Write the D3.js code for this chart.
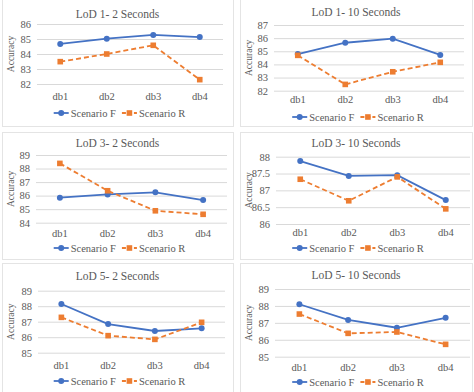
<!DOCTYPE html>
<html><head><meta charset="utf-8">
<script src="https://cdn.jsdelivr.net/npm/d3@7"></script>
<style>body{margin:0;background:#fff}svg{display:block}svg text{font-family:'Liberation Serif','Times New Roman','DejaVu Serif',serif !important}</style>
</head><body>
<svg id="c" width="474" height="392"></svg>
<script>
const categories = ["db1","db2","db3","db4"];
const titles = ["LoD 1- 2 Seconds","LoD 1- 10 Seconds","LoD 3- 2 Seconds","LoD 3- 10 Seconds","LoD 5- 2 Seconds","LoD 5- 10 Seconds"];
const seriesNames = ["Scenario F","Scenario R"];
const lod1s2F = [84.67, 85.02, 85.27, 85.13];
const lod1s2R = [83.49, 84.00, 84.58, 82.29];
const lod1s10F = [84.79, 85.65, 85.96, 84.72];
const lod1s10R = [84.69, 82.48, 83.44, 84.16];
const lod3s2F = [85.85, 86.09, 86.24, 85.67];
const lod3s2R = [88.38, 86.36, 84.88, 84.62];
const lod3s10F = [87.87, 87.43, 87.45, 86.71];
const lod3s10R = [87.33, 86.69, 87.40, 86.45];
const lod5s2F = [88.14, 86.85, 86.40, 86.57];
const lod5s2R = [87.28, 86.10, 85.86, 86.96];
const lod5s10F = [88.10, 87.17, 86.71, 87.30];
const lod5s10R = [87.52, 86.38, 86.46, 85.73];
const ticks1s2 = [82,83,84,85,86];
const ticks1s10 = [82,83,84,85,86,87];
const ticks3s2 = [84,85,86,87,88,89];
const ticks3s10 = [86,86.5,87,87.5,88];
const ticks5s2 = [85,86,87,88,89];
const ticks5s10 = [85,86,87,88,89];

// layout (boxes and plot areas)
const layout = [
  {bx:2,by:-1,bw:231,bh:127, l:37,r:223,t:24,b:84, ty:18, xy:101, ly:113},
  {bx:240,by:-1,bw:232,bh:127, l:274,r:464,t:25,b:90.7, ty:16, xy:104, ly:117},
  {bx:2,by:132,bw:231,bh:127, l:36,r:227,t:155,b:222.7, ty:147, xy:238, ly:248},
  {bx:240,by:132,bw:232,bh:127, l:276,r:470,t:156.7,b:224, ty:147, xy:237, ly:248},
  {bx:2,by:263,bw:231,bh:130, l:38,r:225,t:290.7,b:352.7, ty:280, xy:370, ly:381},
  {bx:240,by:263,bw:232,bh:130, l:275,r:470,t:289,b:356.7, ty:279, xy:372, ly:382}
];
const dataF = [lod1s2F,lod1s10F,lod3s2F,lod3s10F,lod5s2F,lod5s10F];
const dataR = [lod1s2R,lod1s10R,lod3s2R,lod3s10R,lod5s2R,lod5s10R];
const tickSets = [ticks1s2,ticks1s10,ticks3s2,ticks3s10,ticks5s2,ticks5s10];

const blue = "#4472C4", orange = "#ED7D31", txt = "#595959", grid = "#d9d9d9";
const font = "'Liberation Serif', 'DejaVu Serif', serif";
const svg = d3.select("#c");

layout.forEach((L, i) => {
  const g = svg.append("g");
  g.append("rect").attr("x",L.bx+0.5).attr("y",L.by+0.5).attr("width",L.bw).attr("height",L.bh)
    .attr("fill","#fff").attr("stroke","#e4e4e4").attr("stroke-width",1);
  const ticks = tickSets[i];
  const y = d3.scaleLinear().domain(d3.extent(ticks)).range([L.b, L.t]);
  const x = d3.scaleBand().domain(categories).range([L.l, L.r]);
  const cx = d => x(d) + x.bandwidth()/2;

  const yAxis = d3.axisLeft(y).tickValues(ticks).tickSize(-(L.r-L.l)).tickPadding(6)
    .tickFormat(d => String(d));
  const ya = g.append("g").attr("transform",`translate(${L.l},0)`).call(yAxis);
  ya.attr("font-family",font).attr("font-size",null);
  ya.select(".domain").remove();
  ya.selectAll(".tick line").attr("stroke",grid).attr("stroke-width",1);
  ya.selectAll(".tick text").attr("fill",txt).style("font-size","10.5px");

  const xAxis = d3.axisBottom(x).tickSize(0).tickPadding(0);
  const xa = g.append("g").attr("transform",`translate(0,${L.xy-8})`).call(xAxis);
  xa.attr("font-family",font).attr("font-size",null);
  xa.select(".domain").remove();
  xa.selectAll(".tick text").attr("fill",txt).attr("dy","0.71em").style("font-size","10.5px");

  g.append("text").attr("x",(L.bx+L.bw/2)).attr("y",L.ty).attr("text-anchor","middle")
    .attr("fill",txt).style("font-size","11.5px").text(titles[i]);

  g.append("text").attr("transform",`translate(${L.bx+12},${(L.t+L.b)/2}) rotate(-90)`)
    .attr("text-anchor","middle").attr("fill",txt).style("font-size","9.5px").text("Accuracy");

  const line = d3.line().x((d,j)=>cx(categories[j])).y(d=>y(d));
  g.append("path").datum(dataF[i]).attr("d",line).attr("fill","none").attr("stroke",blue).attr("stroke-width",1.8);
  g.append("path").datum(dataR[i]).attr("d",line).attr("fill","none").attr("stroke",orange).attr("stroke-width",1.8).attr("stroke-dasharray","5,3");
  g.selectAll("circle.f").data(dataF[i]).join("circle").attr("class","f")
    .attr("cx",(d,j)=>cx(categories[j])).attr("cy",d=>y(d)).attr("r",3).attr("fill",blue);
  g.selectAll("rect.r").data(dataR[i]).join("rect").attr("class","r")
    .attr("x",(d,j)=>cx(categories[j])-2.8).attr("y",d=>y(d)-2.8).attr("width",5.6).attr("height",5.6).attr("fill",orange);

  // legend
  const lg = g.append("g");
  const seg = 15, gap = 2, sep = 6;
  let xpos = 0;
  seriesNames.forEach((name, k) => {
    const it = lg.append("g").attr("transform",`translate(${xpos},0)`);
    const col = k === 0 ? blue : orange;
    it.append("line").attr("x1",0).attr("x2",seg).attr("y1",0).attr("y2",0).attr("stroke",col).attr("stroke-width",1.8)
      .attr("stroke-dasharray", k === 0 ? null : "4,2");
    if (k === 0) it.append("circle").attr("cx",seg/2).attr("cy",0).attr("r",3).attr("fill",col);
    else it.append("rect").attr("x",seg/2-2.8).attr("y",-2.8).attr("width",5.6).attr("height",5.6).attr("fill",col);
    const t = it.append("text").attr("x",seg+gap).attr("y",3.5).attr("fill",txt).style("font-size","10.5px").text(name);
    xpos += seg + gap + t.node().getComputedTextLength() + sep;
  });
  const total = xpos - sep;
  lg.attr("transform",`translate(${L.bx + L.bw/2 - total/2 + 2},${L.ly})`);
});
</script>
</body></html>
